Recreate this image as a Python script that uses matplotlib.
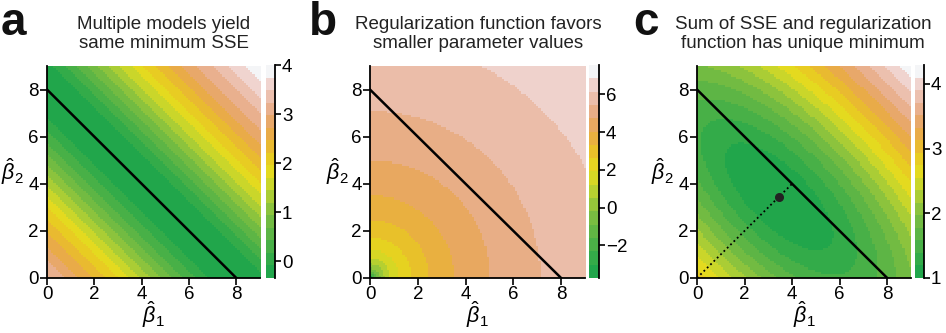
import numpy as np
import matplotlib
matplotlib.use("Agg")
import matplotlib.pyplot as plt
from matplotlib.colors import LinearSegmentedColormap, Normalize

plt.rcParams["font.family"] = ["Liberation Sans", "DejaVu Sans"]
plt.rcParams["mathtext.fontset"] = "custom"
plt.rcParams["mathtext.it"] = "Liberation Sans:italic"
plt.rcParams["mathtext.rm"] = "Liberation Sans"
plt.rcParams["axes.unicode_minus"] = True

# --- values ---
line_sum = 8.0                 # SSE minimum lies on b1 + b2 = 8
ridge_min = (3.45, 3.45)       # minimum of SSE + regularization
axis_max = 9.0
axis_ticks = [0, 2, 4, 6, 8]

titles = ["Multiple models yield\nsame minimum SSE",
          "Regularization function favors\nsmaller parameter values",
          "Sum of SSE and regularization\nfunction has unique minimum"]
letters = ["a", "b", "c"]

cbar_limits = [(-0.34, 4.0), (-3.74, 7.56), (1.0, 4.29)]
cbar_ticks = [[0, 1, 2, 3, 4], [-2, 0, 2, 4, 6], [1, 2, 3, 4]]
n_bands = [17, 16, 17]

# shape parameters of the three (log-scaled) surfaces
sse_gain, sse_noise = 1.72, 9.0
reg_offset, reg_eps = 1.52, 0.005
sum_gain, sum_noise, sum_stretch = 1.99, 15.0, 2.4

# band colours, bottom to top of the colour bars
band_colors = ["#21a64b", "#33ab49", "#48b047", "#5db545", "#72bb42", "#8cc33d",
               "#aacd35", "#cad62a", "#e4da1f", "#e8cc22", "#e9ba30", "#e9ab48",
               "#e8a86a", "#e9b08e", "#ecc0ae", "#f0d4cf", "#f4f5f7"]

# --- surfaces on a coarse grid (gives the stepped edges) ---
n = 100
g = (np.arange(n) + 0.5) * axis_max / n
B1, B2 = np.meshgrid(g, g)

d = B1 + B2 - line_sum
sse = cbar_limits[0][0] + sse_gain * np.log(1 + d**2 / sse_noise)

reg = np.log(B1**2 + B2**2 + reg_eps) + reg_offset

u = (B2 - B1 - (ridge_min[1] - ridge_min[0])) / np.sqrt(2)
v = (B1 + B2 - ridge_min[0] - ridge_min[1]) / np.sqrt(2)
q = (u / sum_stretch)**2 + v**2
tot = cbar_limits[2][0] + sum_gain * np.log(1 + q / sum_noise)

surfaces = [sse, reg, tot]

base = LinearSegmentedColormap.from_list("bands", band_colors)

W, H = 946, 333
fig = plt.figure(figsize=(W / 100, H / 100), dpi=100)


def rect(x0, y0, x1, y1):
    return [x0 / W, 1 - y1 / H, (x1 - x0) / W, (y1 - y0) / H]


ax_px = [(47, 66, 260, 278), (370, 66, 585, 278), (697, 66, 911, 278)]
cb_px = [(266, 65, 275, 278), (589, 65, 599, 278), (915, 65, 924, 278)]
title_x = [164, 478, 803]
letter_x = [1, 309, 633]
ylab_x = [12, 337, 662]

for i in range(3):
    ax = fig.add_axes(rect(*ax_px[i]))
    cax = fig.add_axes(rect(*cb_px[i]))
    lo, hi = cbar_limits[i]
    cmap = base.resampled(n_bands[i])
    im = ax.imshow(surfaces[i], origin="lower", extent=[0, axis_max, 0, axis_max],
                   cmap=cmap, norm=Normalize(lo, hi), interpolation="nearest",
                   aspect="auto")

    ax.plot([0, line_sum], [line_sum, 0], color="black", lw=1.8)
    if i == 2:
        ax.plot([0, line_sum / 2], [0, line_sum / 2], color="black", lw=1.3,
                ls=(0, (1, 1.6)))
        ax.plot([ridge_min[0]], [ridge_min[1]], "o", color="#222222", ms=5.5)

    ax.set_xlim(0, axis_max)
    ax.set_ylim(0, axis_max)
    ax.set_xticks(axis_ticks)
    ax.set_yticks(axis_ticks)
    for s in ["top", "right"]:
        ax.spines[s].set_visible(False)
    for s in ["left", "bottom"]:
        ax.spines[s].set_linewidth(1.3)
    ax.tick_params(direction="out", length=5, width=1.2, labelsize=13.5, pad=1)

    cb = fig.colorbar(im, cax=cax, ticks=cbar_ticks[i])
    cb.outline.set_visible(False)
    cax.spines["right"].set_visible(True)
    cax.spines["right"].set_linewidth(1.3)
    cax.tick_params(direction="out", length=4, width=1.2, labelsize=13.5, pad=1)

    cx = (ax_px[i][0] + ax_px[i][2]) / 2
    fig.text(cx / W, 1 - 315 / H, r"$\hat{\beta}_1$", ha="center",
             va="center", fontsize=15.5)
    fig.text(title_x[i] / W, 1 - 34 / H, titles[i], ha="center", va="center",
             fontsize=13.5, color="#222222", linespacing=1.2)
    fig.text(letter_x[i] / W, 1 - 35 / H, letters[i], ha="left", va="baseline",
             fontsize=33, fontweight="bold", color="#111111")
    fig.text(ylab_x[i] / W, 1 - 172 / H, r"$\hat{\beta}_2$", ha="center",
             va="center", fontsize=15.5)

fig.savefig("out.png", dpi=100)
